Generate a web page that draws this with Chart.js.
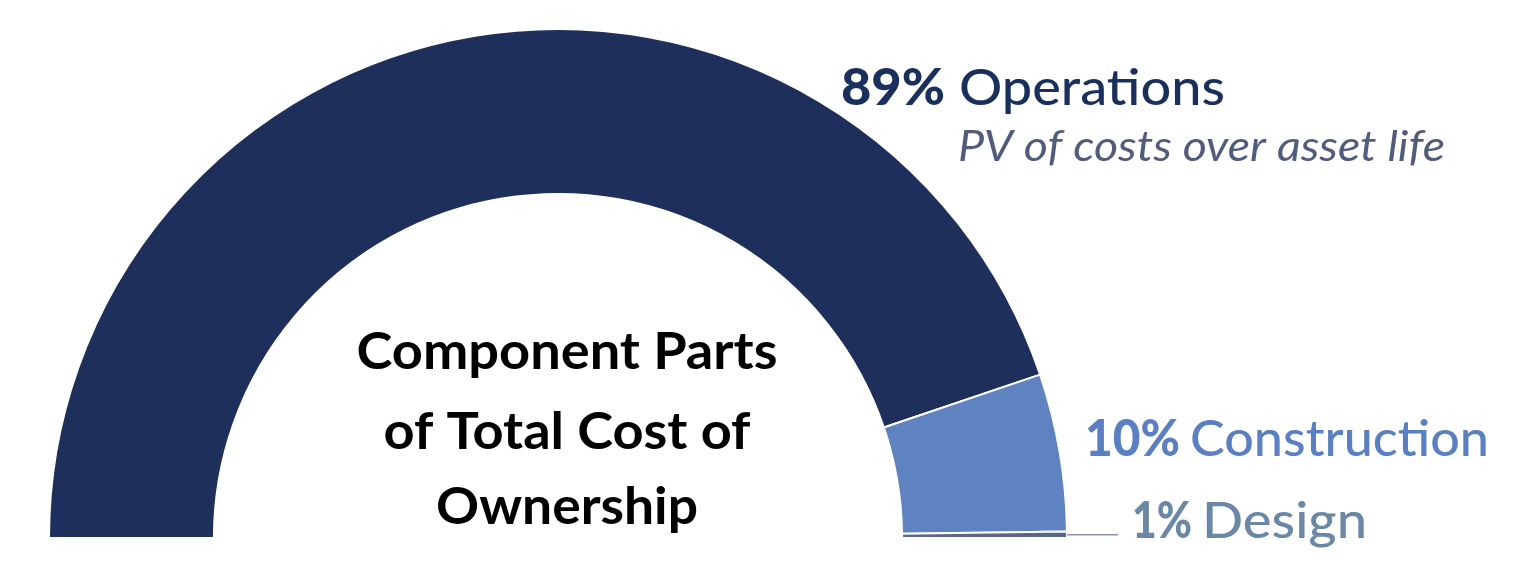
<!DOCTYPE html>
<html>
<head>
<meta charset="utf-8">
<script src="https://cdn.jsdelivr.net/npm/chart.js@4.4.1/dist/chart.umd.min.js"></script>
<style>
  html,body{margin:0;padding:0;background:#fff;}
  #wrap{width:1536px;height:582px;position:relative;}
</style>
</head>
<body>
<div id="wrap"><canvas id="tco"></canvas></div>
<script>
// ---- data
const categories  = ['Operations', 'Construction', 'Design'];
const shares      = [89.6, 10.0, 0.4];          // drawn sweep of each slice
const shareLabels = ['89%', '10%', '1%'];        // printed percentages
const subLabels   = ['PV of costs over asset life', '', ''];
const titleLines  = ['Component Parts', 'of Total Cost of', 'Ownership'];

// ---- styles
const sliceColors = ['#1d2f5a', '#5f82c0', '#5a6688'];
const textColors  = ['#1b2f5c', '#5b80c2', '#6a88a6'];
const subColor    = '#525b7c';
const FONT = 'Lato, "Open Sans", sans-serif';

// label boxes: left x, baseline y, widths of the % part and the name
const labelPos = [
  {x: 841,  y: 105, pw: 104, gap: 14, nw: 266, sub: {x: 958, y: 161, w: 487}},
  {x: 1085, y: 456, pw: 95,  gap: 10, nw: 299},
  {x: 1132, y: 538, pw: 60,  gap: 10, nw: 165}
];
const titleWidths = [421, 367, 262];

// draw text squeezed/stretched to a given width (the source font is wider than Lato)
function fitText(ctx, t, x, y, w, align){
  const m = ctx.measureText(t).width;
  const k = w ? w / m : 1;
  ctx.save();
  ctx.translate(x, y);
  ctx.scale(k, 1);
  ctx.textAlign = align || 'left';
  ctx.fillText(t, 0, 0);
  ctx.restore();
}

const labelsPlugin = {
  id: 'tcoLabels',
  afterDraw(chart){
    const ctx = chart.ctx;
    const meta = chart.getDatasetMeta(0);
    const arc0 = meta.data[0];
    const cx = arc0.x, cy = arc0.y;
    ctx.save();
    ctx.textBaseline = 'alphabetic';

    // centre title
    ctx.fillStyle = '#000';
    ctx.font = `bold 51px ${FONT}`;
    const base = [-169, -89, -14];
    titleLines.forEach((t,i)=> fitText(ctx, t, cx + 9, cy + base[i], titleWidths[i], 'center'));

    // leader line for the thin design slice
    const d = meta.data[2];
    const mid = (d.startAngle + d.endAngle)/2;
    const lx = d.x + Math.cos(mid)*d.outerRadius;
    const ly = d.y + Math.sin(mid)*d.outerRadius;
    ctx.strokeStyle = '#8a96ad';
    ctx.lineWidth = 1.5;
    ctx.beginPath(); ctx.moveTo(lx, ly); ctx.lineTo(1118, ly); ctx.stroke();

    // slice labels
    categories.forEach((c,i)=>{
      const p = labelPos[i];
      ctx.fillStyle = textColors[i];
      ctx.font = `900 51px ${FONT}`;
      fitText(ctx, shareLabels[i], p.x, p.y, p.pw);
      ctx.font = `500 51px ${FONT}`;
      fitText(ctx, c, p.x + p.pw + p.gap, p.y, p.nw);
      if(subLabels[i] && p.sub){
        ctx.fillStyle = subColor;
        ctx.font = `italic 43px ${FONT}`;
        fitText(ctx, subLabels[i], p.sub.x, p.sub.y, p.sub.w);
      }
    });
    ctx.restore();
  }
};

new Chart(document.getElementById('tco'), {
  type: 'doughnut',
  data: {
    labels: categories,
    datasets: [{
      data: shares,
      backgroundColor: sliceColors,
      borderColor: '#ffffff',
      borderWidth: 2
    }]
  },
  options: {
    responsive: true,
    maintainAspectRatio: false,
    animation: false,
    rotation: -90,
    circumference: 180,
    cutout: '67.6%',
    layout: {padding: {left: 47, right: 467, top: 28, bottom: 43}},
    plugins: {legend: {display: false}, tooltip: {enabled: false}}
  },
  plugins: [labelsPlugin]
});
</script>
</body>
</html>
